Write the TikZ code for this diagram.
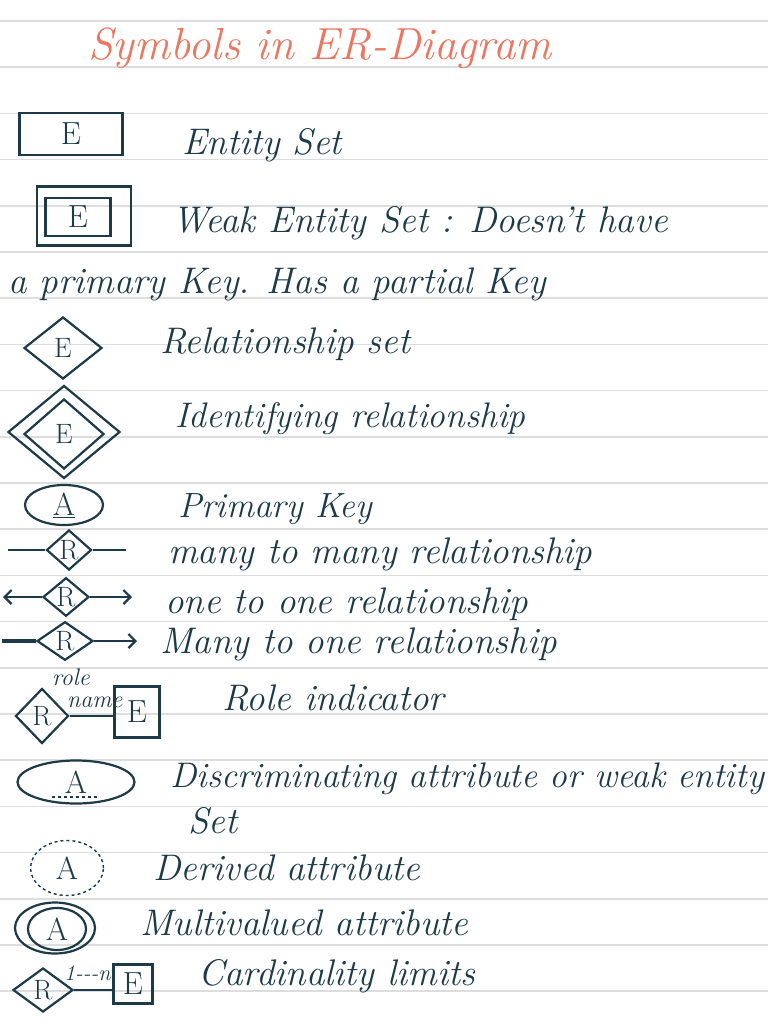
\documentclass[tikz,border=0pt]{standalone}
\usepackage{fontspec}
\usepackage{tikz}
\usetikzlibrary{shapes.geometric,arrows.meta,positioning}
\definecolor{ink}{RGB}{28,58,72}
\definecolor{titlered}{RGB}{236,118,96}
\definecolor{ruling}{RGB}{221,221,221}
\begin{document}
\begin{tikzpicture}[x=1pt,y=-1pt,
  every node/.style={text=ink},
  txt/.style={anchor=base west, inner sep=0, font=\itshape\fontsize{37}{42}\selectfont},
  small/.style={anchor=base west, inner sep=0, font=\itshape\fontsize{24}{26}\selectfont},
  entity/.style={draw=ink, rectangle, line width=2.2, inner sep=0, font=\fontsize{32}{34}\selectfont},
  rel/.style={draw=ink, diamond, line width=2.2, inner sep=0, font=\fontsize{28}{30}\selectfont},
  attr/.style={draw=ink, ellipse, line width=2.2, inner sep=0, font=\fontsize{32}{34}\selectfont},
  conn/.style={draw=ink, line width=2.2},
  arr/.style={conn, -{Straight Barb[length=7pt,width=14pt]}},
  paperline/.style={draw=ruling, line width=1.5}]
  \useasboundingbox (0,0) rectangle (768,1024);
  % ruled paper
  \fill[white] (0,0) rectangle (768,1024);
  \foreach \k in {0,...,21}
    \draw[paperline] (0,{21+46.2*\k}) -- (768,{21+46.2*\k});

  % Title
  \node[anchor=base west, inner sep=0, text=titlered, font=\itshape\fontsize{45}{50}\selectfont] (title) at (88,60) {Symbols in ER-Diagram};

  % Define symbols
  \node[entity, minimum width=103, minimum height=42] (ent) at (71,134) {E};
  \node[entity, minimum width=94, minimum height=59] (weakout) at (84,216) {};
  \node[entity, minimum width=65, minimum height=38] (weakin) at (78,217) {E};
  \node[rel, minimum width=78, minimum height=62] (relset) at (63,348) {E};
  \node[rel, minimum width=112, minimum height=93] (idout) at (64,432) {};
  \node[rel, minimum width=80, minimum height=70] (idin) at (64,434) {E};
  \node[attr, minimum width=78, minimum height=40] (pk) at (64,505) {\underline{A}};
  \node[rel, minimum width=45, minimum height=40] (mm) at (69,550) {R};
  \node[rel, minimum width=46, minimum height=37] (oo) at (66,597) {R};
  \node[rel, minimum width=56, minimum height=33] (mo) at (65,641) {R};
  \node[rel, minimum width=53, minimum height=55] (roler) at (42,716) {R};
  \node[entity, minimum width=45, minimum height=51] (rolee) at (137,712) {E};
  \node[attr, minimum width=117, minimum height=43] (disc) at (76,782) {A};
  \node[attr, dashed, line width=1.4, minimum width=73, minimum height=55] (der) at (67,868) {A};
  \node[attr, minimum width=80, minimum height=51] (mvout) at (55,928) {};
  \node[attr, minimum width=58, minimum height=42] (mvin) at (57,929) {A};
  \node[rel, minimum width=60, minimum height=44] (card) at (43,990) {R};
  \node[entity, minimum width=39, minimum height=39] (carde) at (133,984) {E};

  % free ends
  \coordinate (mml) at (8,550);
  \coordinate (mmr) at (126,550);
  \coordinate (ool) at (3,597);
  \coordinate (oor) at (132,597);
  \coordinate (mol) at (2,641);
  \coordinate (mor) at (137,641);

  % Draw edges
  \draw[conn] (mml) -- (mm);
  \draw[conn] (mm) -- (mmr);
  \draw[arr] (oo) -- (ool);
  \draw[arr] (oo) -- (oor);
  \draw[conn, line width=4] (mol) -- (mo);
  \draw[arr] (mo) -- (mor);
  \draw[conn] (roler.east) -- (roler.east -| rolee.west);
  \draw[conn] (card.east) -- (card.east -| carde.west);
  \draw[conn, dashed, line width=1.6] ([xshift=-24pt,yshift=-15pt]disc.center) -- ([xshift=24pt,yshift=-15pt]disc.center);

  % labels on connectors
  \node[small] (rolelbl) at (52,685) {role};
  \node[small] (rolename) at (67,707) {name};
  \node[small, font=\itshape\fontsize{22}{24}\selectfont] (cardlbl) at (64,980) {1-{}-{}-n};

  % Descriptions
  \node[txt] (t1) at (182,155) {Entity Set};
  \node[txt] (t2) at (172,233) {Weak Entity Set : Doesn't have};
  \node[txt] (t2b) at (8,293) {a primary Key. Has a partial Key};
  \node[txt] (t3) at (160,353) {Relationship set};
  \node[txt, font=\itshape\fontsize{35.5}{40}\selectfont] (t4) at (175,427) {Identifying relationship};
  \node[txt, font=\itshape\fontsize{35}{40}\selectfont] (t5) at (178,517) {Primary Key};
  \node[txt] (t6) at (168,563) {many to many relationship};
  \node[txt] (t7) at (165,613) {one to one relationship};
  \node[txt] (t8) at (160,653) {Many to one relationship};
  \node[txt] (t9) at (222,710) {Role indicator};
  \node[txt, font=\itshape\fontsize{35.5}{40}\selectfont] (t10) at (170,787) {Discriminating attribute or weak entity};
  \node[txt] (t10b) at (188,833) {Set};
  \node[txt] (t11) at (153,880) {Derived attribute};
  \node[txt] (t12) at (140,935) {Multivalued attribute};
  \node[txt] (t13) at (198,985) {Cardinality limits};
\end{tikzpicture}
\end{document}
